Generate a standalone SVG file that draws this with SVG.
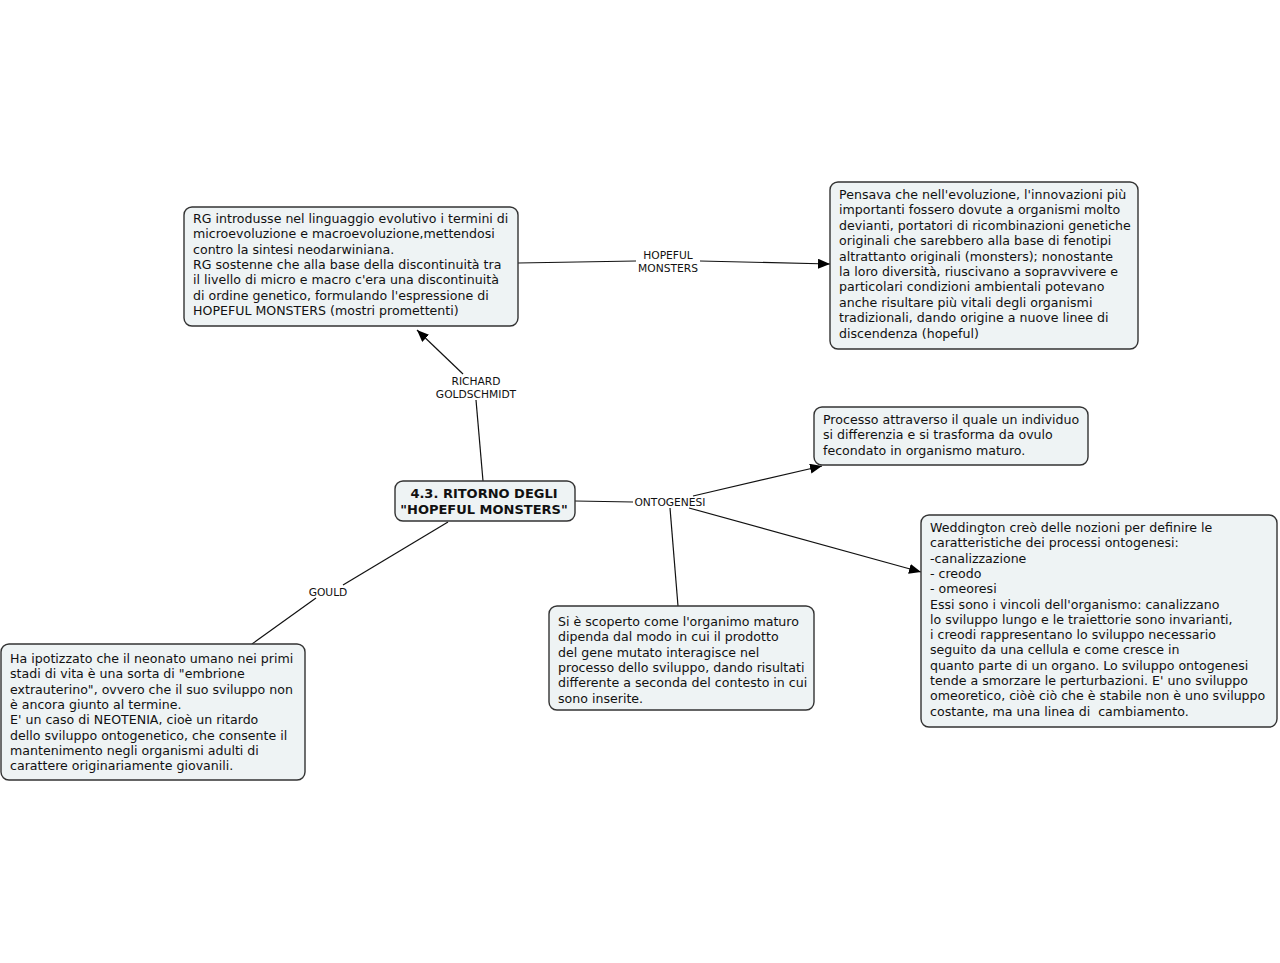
<svg xmlns="http://www.w3.org/2000/svg" width="1280" height="963" viewBox="0 0 1280 963">
<defs>
<marker id="arr" viewBox="0 0 12 10" refX="12" refY="5" markerWidth="12" markerHeight="10" markerUnits="userSpaceOnUse" orient="auto">
<path d="M0,0 L12,5 L0,10 z" fill="#000"/>
</marker>
<style>
.box{fill:#eef3f4;stroke:#333;stroke-width:1.4}
.t{font-family:"DejaVu Sans",Verdana,sans-serif;font-size:12.6px;fill:#111}
.b{font-family:"DejaVu Sans",Verdana,sans-serif;font-size:13px;font-weight:bold;fill:#111}
.l{font-family:"DejaVu Sans",Verdana,sans-serif;font-size:10.7px;fill:#111}
.c{stroke:#111;stroke-width:1.2;fill:none}
</style>
</defs>
<rect width="1280" height="963" fill="#fff"/>
<g id="connectors">
<line class="c" x1="483" y1="481" x2="476" y2="400"/>
<line class="c" x1="463" y1="374" x2="417" y2="330" marker-end="url(#arr)"/>
<line class="c" x1="518" y1="263" x2="636" y2="261"/>
<line class="c" x1="700" y1="261" x2="830" y2="264" marker-end="url(#arr)"/>
<line class="c" x1="575" y1="501" x2="633" y2="502"/>
<line class="c" x1="693" y1="496" x2="822" y2="466" marker-end="url(#arr)"/>
<line class="c" x1="689" y1="508" x2="921" y2="572" marker-end="url(#arr)"/>
<line class="c" x1="670" y1="508" x2="678" y2="606"/>
<line class="c" x1="448" y1="522" x2="343" y2="585"/>
<line class="c" x1="316" y1="598" x2="252" y2="644"/>
<text class="l" text-anchor="middle"><tspan x="476" y="385">RICHARD</tspan><tspan x="476" y="397.5">GOLDSCHMIDT</tspan></text>
<text class="l" text-anchor="middle"><tspan x="668" y="259">HOPEFUL</tspan><tspan x="668" y="271.5">MONSTERS</tspan></text>
<text class="l" text-anchor="middle" x="670" y="506">ONTOGENESI</text>
<text class="l" text-anchor="middle" x="328" y="595.5">GOULD</text>
</g>
<g id="n1">
<rect class="box" x="184" y="207" width="334" height="119" rx="8"/>
<text class="t"><tspan x="193" y="223">RG introdusse nel linguaggio evolutivo i termini di</tspan><tspan x="193" y="238.3">microevoluzione e macroevoluzione,mettendosi</tspan><tspan x="193" y="253.6">contro la sintesi neodarwiniana.</tspan><tspan x="193" y="268.9">RG sostenne che alla base della discontinuità tra</tspan><tspan x="193" y="284.2">il livello di micro e macro c'era una discontinuità</tspan><tspan x="193" y="299.5">di ordine genetico, formulando l'espressione di</tspan><tspan x="193" y="314.8">HOPEFUL MONSTERS (mostri promettenti)</tspan></text>
</g>
<g id="n2">
<rect class="box" x="830" y="182" width="308" height="167" rx="8"/>
<text class="t"><tspan x="839" y="199">Pensava che nell'evoluzione, l'innovazioni più</tspan><tspan x="839" y="214.4">importanti fossero dovute a organismi molto</tspan><tspan x="839" y="229.8">devianti, portatori di ricombinazioni genetiche</tspan><tspan x="839" y="245.2">originali che sarebbero alla base di fenotipi</tspan><tspan x="839" y="260.6">altrattanto originali (monsters); nonostante</tspan><tspan x="839" y="276">la loro diversità, riuscivano a sopravvivere e</tspan><tspan x="839" y="291.4">particolari condizioni ambientali potevano</tspan><tspan x="839" y="306.8">anche risultare più vitali degli organismi</tspan><tspan x="839" y="322.2">tradizionali, dando origine a nuove linee di</tspan><tspan x="839" y="337.6">discendenza (hopeful)</tspan></text>
</g>
<g id="n3">
<rect class="box" x="395" y="481" width="180" height="40" rx="8"/>
<text class="b" text-anchor="middle"><tspan x="484" y="498">4.3. RITORNO DEGLI</tspan><tspan x="484" y="514">"HOPEFUL MONSTERS"</tspan></text>
</g>
<g id="n4">
<rect class="box" x="814" y="407" width="274" height="58" rx="8"/>
<text class="t"><tspan x="823" y="424">Processo attraverso il quale un individuo</tspan><tspan x="823" y="439.4">si differenzia e si trasforma da ovulo</tspan><tspan x="823" y="454.8">fecondato in organismo maturo.</tspan></text>
</g>
<g id="n5">
<rect class="box" x="921" y="515" width="356" height="212" rx="8"/>
<text class="t"><tspan x="930" y="532">Weddington creò delle nozioni per definire le</tspan><tspan x="930" y="547.3">caratteristiche dei processi ontogenesi:</tspan><tspan x="930" y="562.6">-canalizzazione</tspan><tspan x="930" y="577.9">- creodo</tspan><tspan x="930" y="593.2">- omeoresi</tspan><tspan x="930" y="608.5">Essi sono i vincoli dell'organismo: canalizzano</tspan><tspan x="930" y="623.8">lo sviluppo lungo e le traiettorie sono invarianti,</tspan><tspan x="930" y="639.1">i creodi rappresentano lo sviluppo necessario</tspan><tspan x="930" y="654.4">seguito da una cellula e come cresce in</tspan><tspan x="930" y="669.7">quanto parte di un organo. Lo sviluppo ontogenesi</tspan><tspan x="930" y="685">tende a smorzare le perturbazioni. E' uno sviluppo</tspan><tspan x="930" y="700.3">omeoretico, ciòè ciò che è stabile non è uno sviluppo</tspan><tspan x="930" y="715.6" xml:space="preserve">costante, ma una linea di  cambiamento.</tspan></text>
</g>
<g id="n6">
<rect class="box" x="549" y="606" width="265" height="104" rx="8"/>
<text class="t"><tspan x="558" y="626">Si è scoperto come l'organimo maturo</tspan><tspan x="558" y="641.3">dipenda dal modo in cui il prodotto</tspan><tspan x="558" y="656.6">del gene mutato interagisce nel</tspan><tspan x="558" y="671.9">processo dello sviluppo, dando risultati</tspan><tspan x="558" y="687.2">differente a seconda del contesto in cui</tspan><tspan x="558" y="702.5">sono inserite.</tspan></text>
</g>
<g id="n7">
<rect class="box" x="1" y="644" width="304" height="136" rx="8"/>
<text class="t"><tspan x="10" y="663">Ha ipotizzato che il neonato umano nei primi</tspan><tspan x="10" y="678.3">stadi di vita è una sorta di "embrione</tspan><tspan x="10" y="693.6">extrauterino", ovvero che il suo sviluppo non</tspan><tspan x="10" y="708.9">è ancora giunto al termine.</tspan><tspan x="10" y="724.2">E' un caso di NEOTENIA, cioè un ritardo</tspan><tspan x="10" y="739.5">dello sviluppo ontogenetico, che consente il</tspan><tspan x="10" y="754.8">mantenimento negli organismi adulti di</tspan><tspan x="10" y="770.1">carattere originariamente giovanili.</tspan></text>
</g>
</svg>
